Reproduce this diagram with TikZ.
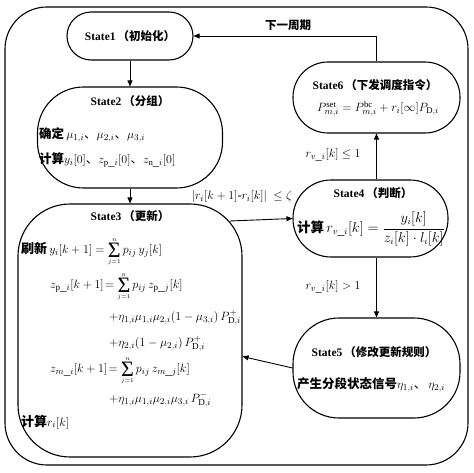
\documentclass[tikz,border=0pt]{standalone}
\usepackage{fontspec}
\setmainfont{Liberation Serif}
\newfontfamily\cjk{Noto Sans CJK SC}
\usetikzlibrary{arrows.meta,calc}
\newcommand{\cnb}[1]{{\cjk\bfseries #1}}
\newcommand{\dun}{{\cjk 、}}
\newcommand{\mytitle}[2]{\textbf{#1}\,\cnb{#2}}
\newcommand{\msum}{\mathop{\vcenter{\hbox{\fontsize{22}{22}\selectfont Σ}}}\limits_{\scriptscriptstyle j=1}^{\scriptscriptstyle n}}
\begin{document}
\begin{tikzpicture}[x=1pt,y=-1pt,
  font=\fontsize{11.5}{13}\selectfont,
  statebox/.style={draw, line width=1.1pt, inner sep=0pt},
  conn/.style={line width=0.9pt, -{Triangle[length=6pt,width=5pt]}},
  txt/.style={inner sep=0pt, anchor=west},
  mtxt/.style={inner sep=0pt, anchor=west, font=\fontsize{13}{14}\selectfont},
  lbl/.style={inner sep=0pt}]
\useasboundingbox (0,0) rectangle (474,473);
% outer frame
\draw[line width=1.1pt, rounded corners=42pt] (5,7) rectangle (468,465);

% State1
\node[statebox, minimum width=126pt, minimum height=48pt, rounded corners=24pt] (s1) at (130,36) {};
\node[lbl] (t1) at (s1.center) {\mytitle{State1}{（初始化）}};

% State2
\node[statebox, minimum width=185pt, minimum height=101pt, rounded corners=46pt] (s2) at (130,137.5) {};
\node[lbl] (t2) at (130,101) {\mytitle{State2}{（分组）}};
\node[txt, font=\fontsize{12.5}{14}\selectfont] (t2a) at (39,135) {\cnb{确定}\,$\mu_{1,i}$\dun$\mu_{2,i}$\dun$\mu_{3,i}$};
\node[txt, font=\fontsize{12.5}{14}\selectfont] (t2b) at (39,160) {\cnb{计算}$y_i[0]$\dun$z_{\mathrm{p}\_i}[0]$\dun$z_{\mathrm{n}\_i}[0]$};

% State3
\node[statebox, minimum width=224pt, minimum height=253pt, rounded corners=52pt] (s3) at (130,330.5) {};
\node[lbl] (t3) at (130,216) {\mytitle{State3}{（更新）}};
\node[mtxt] (t3a) at (21,252) {\cnb{刷新}\,$y_i[k+1]=\msum p_{ij}\,y_j[k]$};
\node[mtxt] (t3b) at (50,287) {$z_{\mathrm{p}\_i}[k+1]\!=\msum p_{ij}\,z_{\mathrm{p}\_j}[k]$};
\node[mtxt] (t3c) at (109,318) {$+\eta_{1,i}\mu_{1,i}\mu_{2,i}(1-\mu_{3,i})\,P^{+}_{\mathrm{D},i}$};
\node[mtxt] (t3d) at (109,344) {$+\eta_{2,i}(1-\mu_{2,i})\,P^{+}_{\mathrm{D},i}$};
\node[mtxt] (t3e) at (50,371) {$z_{m\_i}[k+1]\!=\msum p_{ij}\,z_{m\_j}[k]$};
\node[mtxt] (t3f) at (109,400) {$+\eta_{1,i}\mu_{1,i}\mu_{2,i}\mu_{3,i}\,P^{-}_{\mathrm{D},i}$};
\node[mtxt] (t3g) at (21,422) {\cnb{计算}$r_i[k]$};

% State4
\node[statebox, minimum width=155pt, minimum height=77pt, rounded corners=38pt] (s4) at (370.5,218.5) {};
\node[lbl] (t4) at (373,193) {\mytitle{State4}{（判断）}};
\node[txt, font=\fontsize{13.5}{15}\selectfont] (t4a) at (297,229) {\cnb{计算}\,$r_{v\_i}[k]=\displaystyle\frac{y_i[k]}{z_i[k]\cdot l_i[k]}$};

% State5
\node[statebox, minimum width=167pt, minimum height=100pt, rounded corners=46pt] (s5) at (376.5,368) {};
\node[lbl] (t5) at (374,352) {\mytitle{State5}{（修改更新规则）}};
\node[txt, font=\fontsize{12.5}{14}\selectfont] (t5a) at (297,385) {\cnb{产生分段状态信号}$\eta_{1,i}$\dun\,$\eta_{2,i}$};

% State6
\node[statebox, minimum width=167pt, minimum height=71pt, rounded corners=35pt] (s6) at (376.5,97.5) {};
\node[lbl] (t6) at (375,85) {\mytitle{State6}{（下发调度指令）}};
\node[lbl, font=\fontsize{12.5}{14}\selectfont] (t6a) at (378,109) {$P^{\mathrm{set}}_{m,i}=P^{\mathrm{bc}}_{m,i}+r_i[\infty]P_{\mathrm{D},i}$};

% connectors
\draw[conn] (s1.south) -- (s2.north);
\draw[conn] (s2.south) -- (s3.north);
\coordinate (c34) at (230,221);
\draw[conn] (c34) -- (s4.west);
\node[lbl, font=\fontsize{12.5}{14}\selectfont] (l34) at (242,197) {$|r_i[k+1]$-$r_i[k]|\ \leq\zeta$};
\draw[conn] (s4.south -| s5.north) -- (s5.north);
\node[lbl, font=\fontsize{12.5}{14}\selectfont] (l45) at (333,287) {$r_{v\_i}[k]>1$};
\draw[conn] (s4.north -| s6.south) -- (s6.south);
\node[lbl, font=\fontsize{12.5}{14}\selectfont] (l46) at (333,155) {$r_{v\_i}[k]\leq 1$};
\draw[conn] (s5.west) -- ([yshift=-26pt]s3.east);
\draw[conn] (s6.north) |- (s1.east);
\node[lbl] (lnext) at (288,25) {\cnb{下一周期}};
\end{tikzpicture}
\end{document}
